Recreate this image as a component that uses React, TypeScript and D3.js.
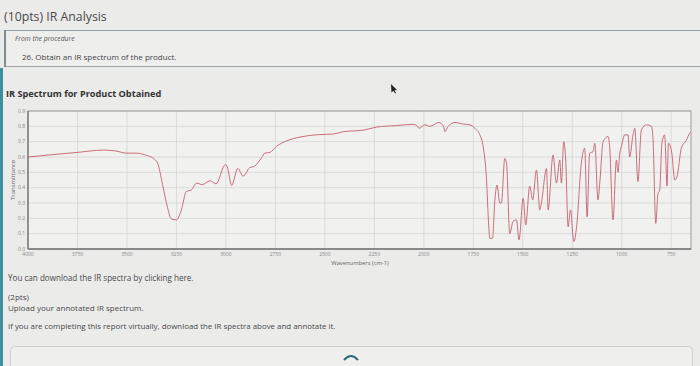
import * as d3 from 'd3';
import React from 'react';

// spectrum (wavenumber cm-1, transmittance)
const wavenumbers = [
  4000, 3880, 3750, 3620, 3560, 3500, 3450, 3400, 3365, 3345, 3320, 3295, 3275, 3250, 3225, 3200, 3175, 3148,
  3120, 3080, 3050, 3003, 2993, 2971, 2940, 2913, 2880, 2855, 2820, 2803, 2778, 2744, 2693, 2626, 2540, 2458,
  2407, 2306, 2239, 2138, 2054, 2035, 2024, 1995, 1970, 1923, 1900, 1894, 1877, 1843, 1801, 1768, 1742, 1717,
  1700, 1684, 1672, 1667, 1653, 1641, 1630, 1616, 1608, 1591, 1582, 1566, 1549, 1532, 1519, 1498, 1485, 1465,
  1450, 1431, 1414, 1406, 1380, 1372, 1347, 1330, 1313, 1305, 1293, 1283, 1271, 1259, 1242, 1228, 1204, 1187,
  1175, 1162, 1145, 1136, 1120, 1111, 1094, 1069, 1061, 1044, 1027, 1019, 1010, 1002, 985, 968, 960, 943, 934,
  918, 901, 875, 850, 842, 828, 817, 808, 797, 783, 771, 764, 747, 732, 721, 699, 673, 657, 650,
];
const transmittance = [
  0.6, 0.615, 0.63, 0.645, 0.64, 0.625, 0.625, 0.61, 0.59, 0.56, 0.42, 0.27, 0.195, 0.19, 0.255, 0.375, 0.385, 0.43,
  0.42, 0.445, 0.425, 0.55, 0.535, 0.415, 0.525, 0.475, 0.53, 0.54, 0.595, 0.625, 0.63, 0.67, 0.705, 0.73, 0.745, 0.75,
  0.765, 0.775, 0.795, 0.805, 0.813, 0.805, 0.787, 0.81, 0.8, 0.825, 0.8, 0.765, 0.8, 0.825, 0.815, 0.81, 0.787, 0.745,
  0.667, 0.47, 0.15, 0.07, 0.07, 0.32, 0.417, 0.3, 0.3, 0.59, 0.56, 0.1, 0.18, 0.19, 0.06, 0.33, 0.157, 0.41,
  0.32, 0.515, 0.255, 0.3, 0.525, 0.255, 0.613, 0.43, 0.58, 0.43, 0.7, 0.58, 0.145, 0.255, 0.048, 0.145, 0.56, 0.657,
  0.21, 0.625, 0.635, 0.69, 0.32, 0.43, 0.7, 0.733, 0.667, 0.19, 0.58, 0.5, 0.625, 0.667, 0.744, 0.744, 0.6, 0.744, 0.787,
  0.44, 0.776, 0.81, 0.8, 0.72, 0.167, 0.36, 0.385, 0.69, 0.744, 0.41, 0.69, 0.625, 0.45, 0.47, 0.657, 0.71, 0.755, 0.765,
];
const xTicks = [4000, 3750, 3500, 3250, 3000, 2750, 2500, 2250, 2000, 1750, 1500, 1250, 1000, 750];
const yTicks = [0, 0.1, 0.2, 0.3, 0.4, 0.5, 0.6, 0.7, 0.8, 0.9];

const plot = { left: 28, right: 691, top: 111, bottom: 249 };
const font = '"Open Sans", Roboto, sans-serif';

export default function App() {
  const x = d3.scaleLinear().domain([4000, 650]).range([plot.left, plot.right]);
  const y = d3.scaleLinear().domain([0, 0.9]).range([plot.bottom, plot.top]);
  const points: [number, number][] = wavenumbers.map((w, i) => [w, transmittance[i]]);
  const line = d3
    .line<[number, number]>()
    .x((d) => x(d[0]))
    .y((d) => y(d[1]))
    .curve(d3.curveMonotoneX);

  return (
    <svg
      width={700}
      height={366}
      style={{ position: 'fixed', left: 0, top: 0, fontFamily: font }}
    >
      <rect width={700} height={366} fill="#ebebea" />
      <rect x={0} y={68} width={3} height={298} fill="#3d8f9c" />

      <text x={4} y={21} fontSize={12.3} fill="#4a4a4a">
        (10pts) IR Analysis
      </text>

      {/* procedure box */}
      <rect x={5} y={30.5} width={710} height={36} fill="#eeeeed" stroke="#9aa3a6" strokeWidth={1} />
      <rect x={4} y={30} width={2} height={37} fill="#7f8d91" />
      <text x={15} y={41} fontSize={6.8} fontStyle="italic" fill="#555">
        From the procedure
      </text>
      <text x={22} y={60} fontSize={8} fill="#444">
        26. Obtain an IR spectrum of the product.
      </text>

      <text x={6} y={97} fontSize={9.2} fontWeight="bold" fill="#333">
        IR Spectrum for Product Obtained
      </text>

      {/* chart */}
      <rect x={plot.left} y={plot.top} width={plot.right - plot.left} height={plot.bottom - plot.top} fill="#f1f1f0" />
      {xTicks.map((t) => (
        <line key={'gx' + t} x1={x(t)} x2={x(t)} y1={plot.top} y2={plot.bottom} stroke="#d6d6d6" strokeWidth={0.8} />
      ))}
      {yTicks.map((t) => (
        <line key={'gy' + t} x1={plot.left} x2={plot.right} y1={y(t)} y2={y(t)} stroke="#d6d6d6" strokeWidth={0.8} />
      ))}
      <rect
        x={plot.left}
        y={plot.top}
        width={plot.right - plot.left}
        height={plot.bottom - plot.top}
        fill="none"
        stroke="#9c9c9c"
        strokeWidth={1}
      />
      <line x1={plot.left} x2={plot.right} y1={plot.bottom} y2={plot.bottom} stroke="#777" strokeWidth={1.3} />
      <line x1={plot.left} x2={plot.left} y1={plot.top} y2={plot.bottom} stroke="#777" strokeWidth={1.3} />

      {yTicks.map((t) => (
        <text key={'ly' + t} x={25} y={y(t) + 1.8} fontSize={5} textAnchor="end" fill="#888">
          {t.toFixed(1)}
        </text>
      ))}
      {xTicks.map((t) => (
        <text key={'lx' + t} x={x(t)} y={256} fontSize={5} textAnchor="middle" fill="#888">
          {t}
        </text>
      ))}
      <text x={360} y={265} fontSize={5.8} textAnchor="middle" fill="#666">
        Wavenumbers (cm-1)
      </text>
      <text transform="translate(15,180) rotate(-90)" fontSize={6} textAnchor="middle" fill="#666">
        Transmittance
      </text>

      <path d={line(points) ?? ''} fill="none" stroke="#c4606d" strokeWidth={0.9} strokeLinejoin="round" />

      {/* cursor */}
      <path d="M391,84 L397,90 L394.5,90.3 L396,93 L395,93.5 L393.5,90.8 L391.5,92.5 Z" fill="#222" />

      <text x={8} y={281} fontSize={8.1} fill="#4a4a4a">
        You can download the IR spectra by clicking here.
      </text>
      <text x={8} y={300} fontSize={8} fill="#4a4a4a">
        (2pts)
      </text>
      <text x={8} y={311} fontSize={8} fill="#4a4a4a">
        Upload your annotated IR spectrum.
      </text>
      <text x={8} y={329} fontSize={7.9} fill="#4a4a4a">
        If you are completing this report virtually, download the IR spectra above and annotate it.
      </text>

      {/* upload box */}
      <rect x={10.5} y={346.5} width={682} height={40} rx={4} fill="#efefee" stroke="#cfcfcf" strokeWidth={1} />
      <path d="M344,360 Q351,352 358,360" fill="none" stroke="#2f6f7a" strokeWidth={2} />
    </svg>
  );
}
